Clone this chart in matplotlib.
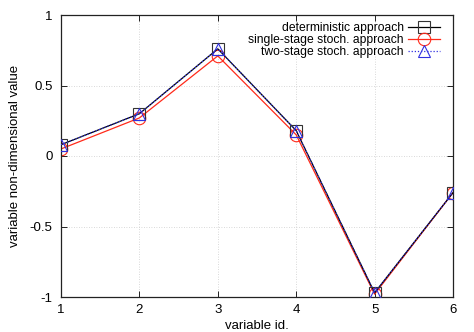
import matplotlib
matplotlib.use("Agg")
import matplotlib.pyplot as plt

plt.rcParams['font.family'] = ['Liberation Sans', 'DejaVu Sans']

var_id = [1, 2, 3, 4, 5, 6]
deterministic = [0.08, 0.30, 0.76, 0.18, -0.97, -0.26]
single_stage = [0.05, 0.27, 0.71, 0.15, -0.98, -0.26]
two_stage = [0.08, 0.30, 0.76, 0.18, -0.97, -0.26]
x_ticks = [1, 2, 3, 4, 5, 6]
y_ticks = [-1, -0.5, 0, 0.5, 1]
y_tick_labels = ['-1', '-0.5', '0', '0.5', '1']

fig = plt.figure(figsize=(4.74, 3.32), dpi=100)
ax = fig.add_axes([61/474, 1 - 297/332, (453-61)/474, (297-15)/332])

ax.plot(var_id, deterministic, color='black', lw=0.9, marker='s', ms=9,
        mfc='none', mec='#333333', mew=0.8, label='deterministic approach', zorder=3)
ax.plot(var_id, single_stage, color='#ff2a1a', lw=0.9, marker='o', ms=9,
        mfc='none', mec='#ff2a1a', mew=0.8, label='single-stage stoch. approach', zorder=2)
ax.plot(var_id, two_stage, color='#3030e0', lw=0.9, ls=(0, (1, 1.5)), marker='^', ms=9,
        mfc='none', mec='#3030e0', mew=0.8, label='two-stage stoch. approach', zorder=4)

ax.set_xlim(1, 6)
ax.set_ylim(-1, 1)
ax.set_xticks(x_ticks)
ax.set_yticks(y_ticks)
ax.set_yticklabels(y_tick_labels)
ax.grid(True, color='#cccccc', ls=(0, (1, 2)), lw=0.6)
ax.tick_params(direction='in', top=True, right=True, labelsize=9.5, length=4, width=0.6)
ax.tick_params(axis='x', pad=5)
ax.tick_params(axis='y', pad=6)
for s in ax.spines.values():
    s.set_linewidth(0.9)
    s.set_color('#222222')

ax.set_xlabel('variable id.', fontsize=9.5, labelpad=3)
ax.set_ylabel('variable non-dimensional value', fontsize=9.5, labelpad=6)

leg = ax.legend(loc='upper right', frameon=False, markerfirst=False, fontsize=8.7,
                handlelength=2.6, borderaxespad=0.2, labelspacing=0.0, handletextpad=0.4,
                bbox_to_anchor=(0.985, 1.0))

fig.savefig('out.png', dpi=100)
